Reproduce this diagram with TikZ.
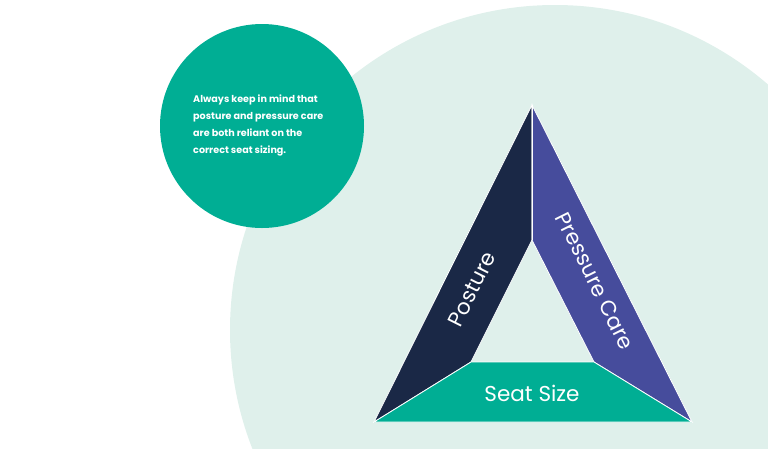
\documentclass[tikz,border=0pt]{standalone}
\usepackage{fontspec}
\setmainfont{Poppins}
\definecolor{bgc}{HTML}{DFF0EB}
\definecolor{teal}{HTML}{00AE94}
\definecolor{navy}{HTML}{1A2846}
\definecolor{purp}{HTML}{464C9C}
\begin{document}
\begin{tikzpicture}[x=1pt,y=-1pt,
  band/.style={draw=white,line width=0.8pt},
  lbl/.style={text=white,font=\fontsize{21.5}{24}\selectfont}]
\useasboundingbox (0,0) rectangle (768,448);
\begin{scope}
\clip (0,0) rectangle (768,448);
\fill[bgc] (555,330) circle[radius=325];
\end{scope}
\fill[teal] (262,126) circle[radius=102];
\node[anchor=north west,align=left,text=white,font=\fontseries{sb}\selectfont\fontsize{9.6}{17}\selectfont,inner sep=0pt] (txt) at (193,95)
 {Always keep in mind that\\posture and pressure care\\are both reliant on the\\correct seat sizing.};
\coordinate (A) at (532,105);
\coordinate (I) at (532,240);
\coordinate (L) at (471,362);
\coordinate (R) at (594,362);
\coordinate (BL) at (374,422);
\coordinate (BR) at (692,422);
\fill[band,fill=navy] (A) -- (I) -- (L) -- (BL) -- cycle;
\fill[band,fill=purp] (A) -- (BR) -- (R) -- (I) -- cycle;
\filldraw[band,fill=teal] (L) -- (R) -- (BR) -- (BL) -- cycle;
\draw[white,line width=0.8pt] (A)--(I);
\node[lbl,rotate=63.5] (p) at (472,289) {Posture};
\node[lbl,rotate=-63.5] (pc) at (595,281) {Pressure Care};
\node[lbl] (s) at (532,393) {Seat Size};
\end{tikzpicture}
\end{document}
